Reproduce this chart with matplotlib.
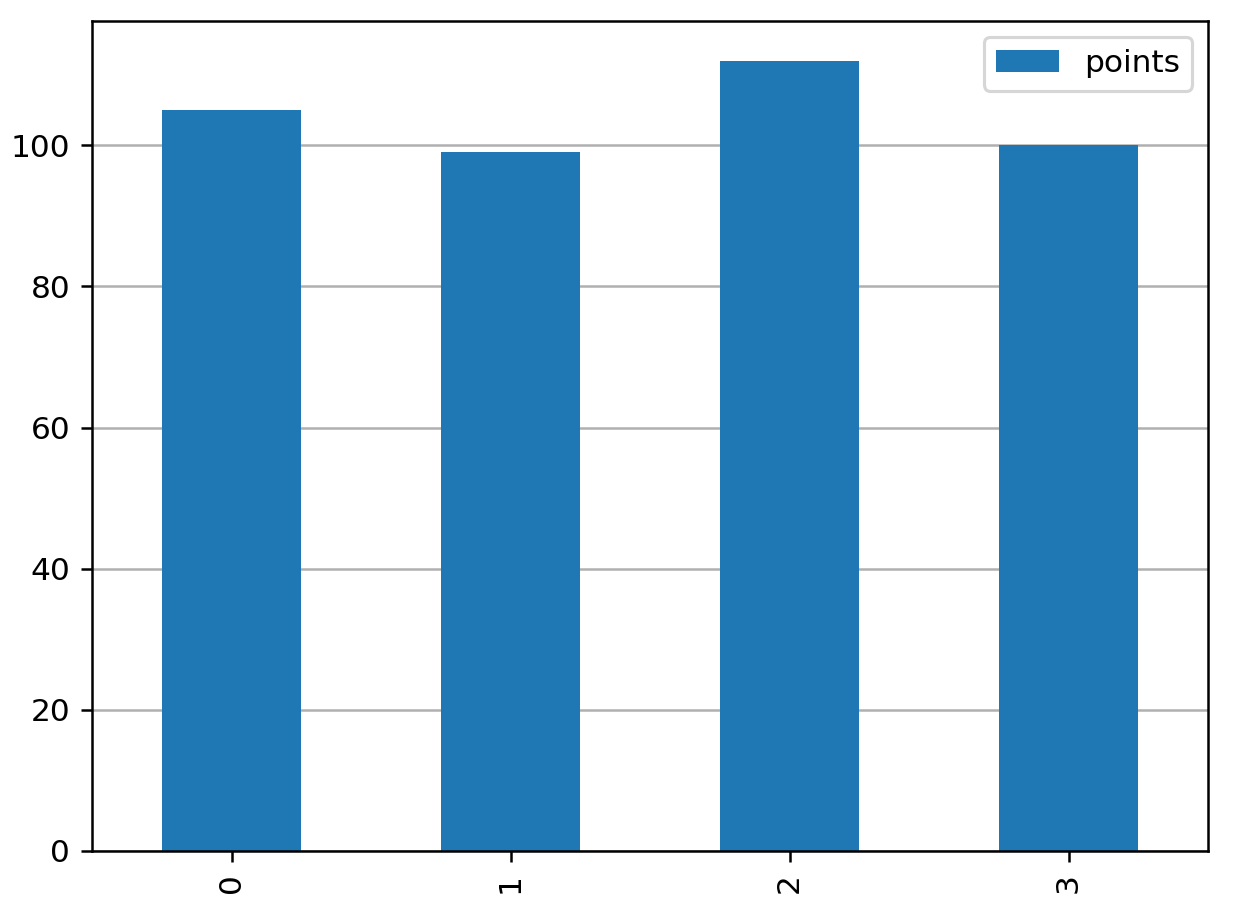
import matplotlib
matplotlib.use('Agg')
import matplotlib.pyplot as plt
import pandas as pd

points = [105, 99, 112, 100]

df = pd.DataFrame({'points': points})

dpi = 225
fig = plt.figure(figsize=(1235 / dpi, 915 / dpi), dpi=dpi)
ax = fig.add_axes([92 / 1235, 64 / 915, 1116 / 1235, 830 / 915])
df.plot(kind='bar', ax=ax)
ax.grid(axis='y')
ax.set_axisbelow(True)

fig.savefig('out.png', dpi=dpi)
